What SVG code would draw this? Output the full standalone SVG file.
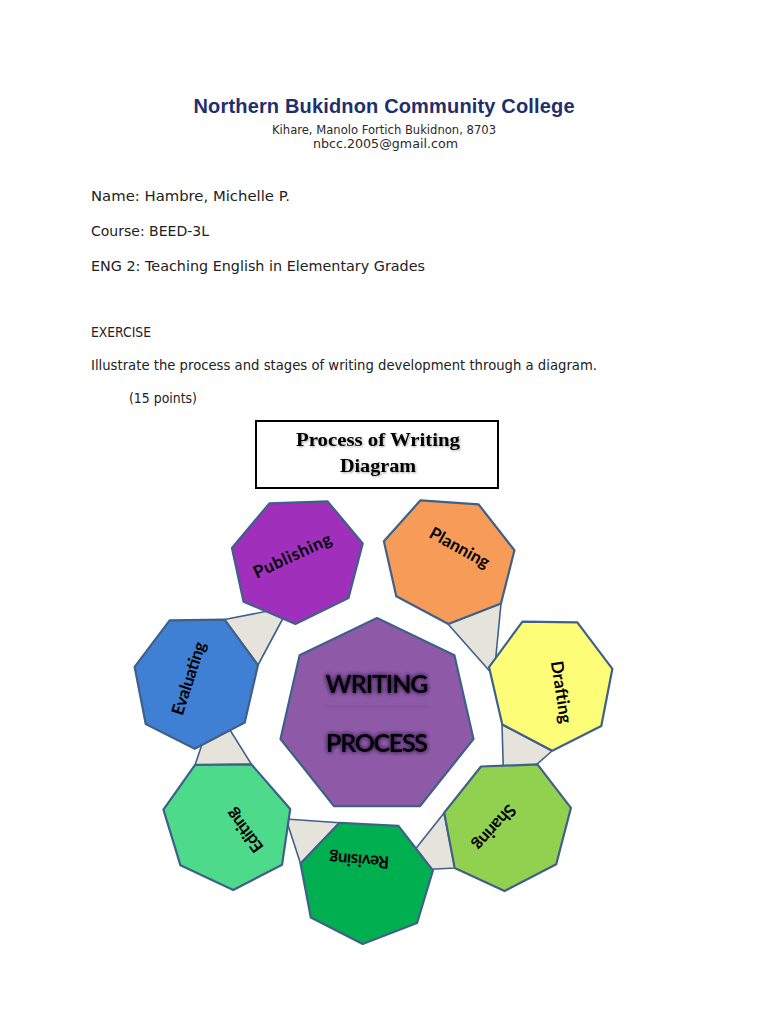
<svg xmlns="http://www.w3.org/2000/svg" width="768" height="1024" viewBox="0 0 768 1024">
<style>
  .hdr { font-family: "Liberation Sans", Arial, sans-serif; fill: #1F2F6E; font-weight: bold; }
  .sub { font-family: "DejaVu Sans", "Liberation Sans", sans-serif; fill: #2a2a2a; }
  .body { font-family: "DejaVu Sans", "Liberation Sans", sans-serif; fill: #222; font-size: 13.5px; }
  .ttl { font-family: "Liberation Serif", "Times New Roman", serif; font-weight: bold; font-size: 19.5px; fill: #000; }
  .node { stroke: #3F6089; stroke-width: 2.2; stroke-linejoin: round; }
  .conn { fill: #E6E4DA; stroke: #3F6089; stroke-width: 1.6; stroke-linejoin: round; }
  .lbl { font-family: Lato, "Open Sans", sans-serif; font-weight: bold; font-size: 17px; fill: #000; text-anchor: middle; dominant-baseline: central; }
  .big { font-family: Lato, "Open Sans", sans-serif; font-weight: bold; font-size: 25px; fill: #000; text-anchor: middle; }
</style>
<defs>
  <filter id="glow" x="-20%" y="-40%" width="140%" height="180%">
    <feGaussianBlur in="SourceAlpha" stdDeviation="2" result="b"/>
    <feFlood flood-color="#3a1f4f" flood-opacity="0.85"/>
    <feComposite in2="b" operator="in" result="s"/>
    <feMerge><feMergeNode in="s"/><feMergeNode in="s"/><feMergeNode in="SourceGraphic"/></feMerge>
  </filter>
  <filter id="soft" x="-10%" y="-300%" width="120%" height="700%">
    <feGaussianBlur stdDeviation="1.5"/>
  </filter>
  <filter id="tshadow" x="-10%" y="-30%" width="120%" height="160%">
    <feOffset in="SourceAlpha" dx="1" dy="1.2" result="o"/>
    <feGaussianBlur in="o" stdDeviation="0.8" result="b"/>
    <feFlood flood-color="#000" flood-opacity="0.35"/>
    <feComposite in2="b" operator="in" result="s"/>
    <feMerge><feMergeNode in="s"/><feMergeNode in="SourceGraphic"/></feMerge>
  </filter>
</defs>
<rect width="768" height="1024" fill="#fff"/>

<g id="header">
  <text class="hdr" x="384" y="113" font-size="20" text-anchor="middle" textLength="381">Northern Bukidnon Community College</text>
  <text class="sub" x="384" y="134" font-size="12.5" text-anchor="middle" textLength="224" lengthAdjust="spacingAndGlyphs">Kihare, Manolo Fortich Bukidnon, 8703</text>
  <text class="sub" x="385.5" y="148" font-size="12.5" text-anchor="middle" textLength="145" lengthAdjust="spacingAndGlyphs">nbcc.2005@gmail.com</text>
</g>

<g id="info">
  <text class="body" x="91" y="201" textLength="199" lengthAdjust="spacingAndGlyphs">Name: Hambre, Michelle P.</text>
  <text class="body" x="91" y="236" textLength="118" lengthAdjust="spacingAndGlyphs">Course: BEED-3L</text>
  <text class="body" x="91" y="271" textLength="334" lengthAdjust="spacingAndGlyphs">ENG 2: Teaching English in Elementary Grades</text>
  <text class="body" x="91" y="337" font-size="12.5" textLength="60" lengthAdjust="spacingAndGlyphs">EXERCISE</text>
  <text class="body" x="91" y="370" textLength="506" lengthAdjust="spacingAndGlyphs">Illustrate the process and stages of writing development through a diagram.</text>
  <text class="body" x="129" y="403" textLength="68" lengthAdjust="spacingAndGlyphs">(15 points)</text>
</g>

<g id="title">
  <rect x="256" y="421" width="242" height="67" fill="#fff" stroke="#000" stroke-width="2"/>
  <g filter="url(#tshadow)">
    <text class="ttl" x="378" y="446" text-anchor="middle" textLength="164" lengthAdjust="spacingAndGlyphs">Process of Writing</text>
    <text class="ttl" x="378" y="472" text-anchor="middle" textLength="76" lengthAdjust="spacingAndGlyphs">Diagram</text>
  </g>
</g>

<g id="connectors">
  <polygon class="conn" points="448,624 501,603.5 494,676"/>
  <polygon class="conn" points="502,724.5 552,751 504,793"/>
  <polygon class="conn" points="444,813 455,868 398,871"/>
  <polygon class="conn" points="339.5,822.7 300.5,863.5 286,819"/>
  <polygon class="conn" points="195,765 251.5,764.4 215,706"/>
  <polygon class="conn" points="224.5,619.5 258,665 289,607"/>
</g>

<g id="center">
  <polygon class="node" fill="#8E5AA8" points="377,618 454.4,655.3 473.5,739 419.9,806.2 334.1,806.2 280.5,739 299.6,655.3"/>
  <rect x="326" y="705.5" width="103" height="2" fill="#5a3a70" opacity="0.25" filter="url(#soft)"/>
  <g filter="url(#glow)">
    <text class="big" x="377" y="693" textLength="103">WRITING</text>
    <text class="big" x="377" y="752" textLength="102">PROCESS</text>
  </g>
</g>

<g id="publishing">
  <polygon class="node" fill="#A02FBC" transform="translate(297,560) rotate(-26)" points="0,-63 53.2,-39.3 66.3,14 29.5,56.8 -29.5,56.8 -66.3,14 -53.2,-39.3"/>
  <text class="lbl" transform="translate(292,555) rotate(-25)" textLength="84">Publishing</text>
</g>
<g id="planning">
  <polygon class="node" fill="#F79C58" transform="translate(449,560) rotate(28)" points="0,-63 53.2,-39.3 66.3,14 29.5,56.8 -29.5,56.8 -66.3,14 -53.2,-39.3"/>
  <text class="lbl" transform="translate(460,547) rotate(29)" textLength="66">Planning</text>
</g>
<g id="drafting">
  <polygon class="node" fill="#FEFD78" transform="translate(551,683) rotate(77)" points="0,-63 53.2,-39.3 66.3,14 29.5,56.8 -29.5,56.8 -66.3,14 -53.2,-39.3"/>
  <text class="lbl" transform="translate(562,692) rotate(81)" textLength="63">Drafting</text>
</g>
<g id="sharing">
  <polygon class="node" fill="#92D050" transform="translate(507,825) rotate(128.6)" points="0,-63 53.2,-39.3 66.3,14 29.5,56.8 -29.5,56.8 -66.3,14 -53.2,-39.3"/>
  <text class="lbl" transform="translate(495,828) rotate(132)" textLength="55">Sharing</text>
</g>
<g id="revising">
  <polygon class="node" fill="#00B050" transform="translate(366,881) rotate(183)" points="0,-63 53.2,-39.3 66.3,14 29.5,56.8 -29.5,56.8 -66.3,14 -53.2,-39.3"/>
  <text class="lbl" transform="translate(359,861) rotate(184)" textLength="60">Revising</text>
</g>
<g id="editing">
  <polygon class="node" fill="#4DDA8B" transform="translate(228,824) rotate(229)" points="0,-63 53.2,-39.3 66.3,14 29.5,56.8 -29.5,56.8 -66.3,14 -53.2,-39.3"/>
  <text class="lbl" transform="translate(244,831) rotate(233)" textLength="50">Editing</text>
</g>
<g id="evaluating">
  <polygon class="node" fill="#4080D4" transform="translate(196,681) rotate(283)" points="0,-63 53.2,-39.3 66.3,14 29.5,56.8 -29.5,56.8 -66.3,14 -53.2,-39.3"/>
  <text class="lbl" transform="translate(188,678) rotate(-72)" textLength="76">Evaluating</text>
</g>
</svg>
